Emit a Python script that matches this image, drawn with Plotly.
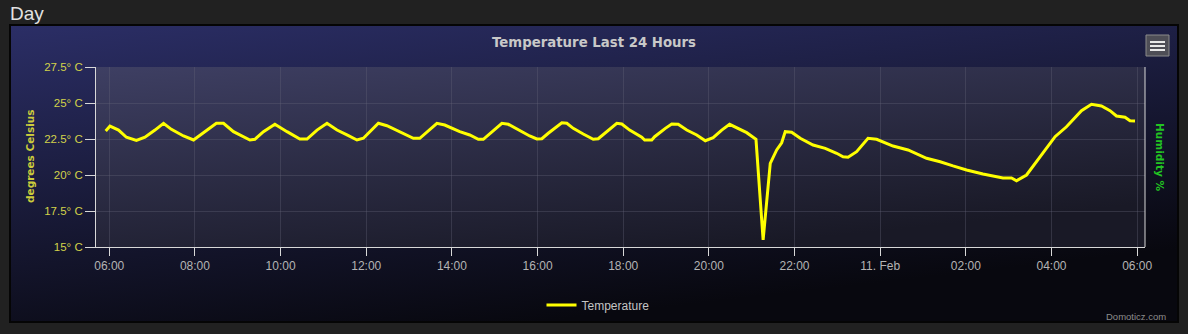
import base64
import plotly.graph_objects as go

# ---------------- data ----------------
times = [
    "2015-02-10 05:55", "2015-02-10 06:01", "2015-02-10 06:13", "2015-02-10 06:24", "2015-02-10 06:38",
    "2015-02-10 06:50", "2015-02-10 07:04", "2015-02-10 07:16", "2015-02-10 07:27", "2015-02-10 07:44",
    "2015-02-10 07:58", "2015-02-10 08:14", "2015-02-10 08:30", "2015-02-10 08:40", "2015-02-10 08:54",
    "2015-02-10 09:17", "2015-02-10 09:24", "2015-02-10 09:36", "2015-02-10 09:52", "2015-02-10 10:09",
    "2015-02-10 10:27", "2015-02-10 10:37", "2015-02-10 10:51", "2015-02-10 11:05", "2015-02-10 11:19",
    "2015-02-10 11:33", "2015-02-10 11:47", "2015-02-10 11:56", "2015-02-10 12:17", "2015-02-10 12:29",
    "2015-02-10 12:52", "2015-02-10 13:06", "2015-02-10 13:15", "2015-02-10 13:39", "2015-02-10 13:50",
    "2015-02-10 14:00", "2015-02-10 14:11", "2015-02-10 14:25", "2015-02-10 14:37", "2015-02-10 14:44",
    "2015-02-10 14:56", "2015-02-10 15:10", "2015-02-10 15:19", "2015-02-10 15:33", "2015-02-10 15:49",
    "2015-02-10 15:59", "2015-02-10 16:06", "2015-02-10 16:15", "2015-02-10 16:34", "2015-02-10 16:41",
    "2015-02-10 16:50", "2015-02-10 17:04", "2015-02-10 17:18", "2015-02-10 17:25", "2015-02-10 17:37",
    "2015-02-10 17:51", "2015-02-10 17:58", "2015-02-10 18:09", "2015-02-10 18:26", "2015-02-10 18:30",
    "2015-02-10 18:40", "2015-02-10 18:44", "2015-02-10 18:59", "2015-02-10 19:08", "2015-02-10 19:17",
    "2015-02-10 19:29", "2015-02-10 19:43", "2015-02-10 19:55", "2015-02-10 20:06", "2015-02-10 20:18",
    "2015-02-10 20:29", "2015-02-10 20:39", "2015-02-10 20:53", "2015-02-10 21:06", "2015-02-10 21:16",
    "2015-02-10 21:26", "2015-02-10 21:35", "2015-02-10 21:42", "2015-02-10 21:47", "2015-02-10 21:56",
    "2015-02-10 22:08", "2015-02-10 22:26", "2015-02-10 22:43", "2015-02-10 22:59", "2015-02-10 23:08",
    "2015-02-10 23:15", "2015-02-10 23:27", "2015-02-10 23:43", "2015-02-10 23:55", "2015-02-11 00:18",
    "2015-02-11 00:39", "2015-02-11 01:05", "2015-02-11 01:24", "2015-02-11 01:42", "2015-02-11 02:01",
    "2015-02-11 02:24", "2015-02-11 02:38", "2015-02-11 02:52", "2015-02-11 03:04", "2015-02-11 03:11",
    "2015-02-11 03:25", "2015-02-11 03:44", "2015-02-11 04:05", "2015-02-11 04:21", "2015-02-11 04:31",
    "2015-02-11 04:42", "2015-02-11 04:56", "2015-02-11 05:10", "2015-02-11 05:22", "2015-02-11 05:31",
    "2015-02-11 05:43", "2015-02-11 05:50", "2015-02-11 05:57",
]
temperature = [
    23.05, 23.40, 23.12, 22.62, 22.40,
    22.62, 23.12, 23.59, 23.17, 22.71,
    22.43, 23.01, 23.59, 23.59, 23.01,
    22.43, 22.48, 23.01, 23.52, 23.01,
    22.50, 22.50, 23.12, 23.59, 23.12,
    22.78, 22.43, 22.55, 23.59, 23.42,
    22.90, 22.55, 22.55, 23.59, 23.47,
    23.24, 23.01, 22.78, 22.48, 22.48,
    23.01, 23.59, 23.52, 23.12, 22.71,
    22.50, 22.52, 22.90, 23.63, 23.59,
    23.24, 22.85, 22.48, 22.52, 23.01,
    23.59, 23.54, 23.12, 22.62, 22.43,
    22.43, 22.66, 23.24, 23.54, 23.52,
    23.12, 22.78, 22.38, 22.59, 23.12,
    23.52, 23.26, 22.94, 22.48, 15.49,
    20.81, 21.74, 22.24, 23.01, 22.97,
    22.55, 22.08, 21.85, 21.51, 21.27,
    21.23, 21.62, 22.55, 22.48, 22.01,
    21.74, 21.16, 20.92, 20.63, 20.35,
    20.07, 19.93, 19.79, 19.79, 19.60,
    20.00, 21.27, 22.66, 23.35, 23.87,
    24.47, 24.91, 24.79, 24.47, 24.10,
    24.01, 23.77, 23.75,
]

y_tick_values = [15, 17.5, 20, 22.5, 25, 27.5]
y_tick_labels = ["15° C", "17.5° C", "20° C", "22.5° C", "25° C", "27.5° C"]
x_tick_values = ["2015-02-10 06:00", "2015-02-10 08:00", "2015-02-10 10:00", "2015-02-10 12:00",
                 "2015-02-10 14:00", "2015-02-10 16:00", "2015-02-10 18:00", "2015-02-10 20:00",
                 "2015-02-10 22:00", "2015-02-11 00:00", "2015-02-11 02:00", "2015-02-11 04:00",
                 "2015-02-11 06:00"]
x_tick_labels = ["06:00", "08:00", "10:00", "12:00", "14:00", "16:00", "18:00", "20:00",
                 "22:00", "11. Feb", "02:00", "04:00", "06:00"]
x_range = ["2015-02-10 05:41:24", "2015-02-11 06:11:00"]
y_range = [15, 27.5]

# ---------------- layout geometry ----------------
W, H = 1188, 334
L, R, T, B = 96, 1145, 67, 247   # plot area in pixels
PW, PH = R - L, B - T


def px(x):
    return (x - L) / PW


def py(y):
    return (B - y) / PH


def svg_uri(c1, c2, x2, y2):
    svg = ('<svg xmlns="http://www.w3.org/2000/svg" width="100" height="100" '
           'viewBox="0 0 100 100" preserveAspectRatio="none"><defs>'
           f'<linearGradient id="g" x1="0" y1="0" x2="{x2}" y2="{y2}">'
           f'<stop offset="0" stop-color="{c1}"/><stop offset="1" stop-color="{c2}"/>'
           '</linearGradient></defs><rect width="100" height="100" fill="url(#g)"/></svg>')
    return "data:image/svg+xml;base64," + base64.b64encode(svg.encode()).decode()


fig = go.Figure()
fig.add_trace(go.Scatter(
    x=times, y=temperature, mode="lines", name="Temperature",
    line=dict(color="#ffff00", width=3, shape="linear"),
))

# panel and plot-area backgrounds
images = [
    dict(source=svg_uri("#2b2e66", "#08080f", 0.45, 1), xref="paper", yref="paper",
         x=px(10), y=py(25), sizex=px(1178) - px(10), sizey=py(25) - py(322),
         xanchor="left", yanchor="top", sizing="stretch", layer="below"),
    dict(source=svg_uri("#3e3f63", "#191926", 0.6, 1), xref="paper", yref="paper",
         x=0, y=1, sizex=1, sizey=1, xanchor="left", yanchor="top",
         sizing="stretch", layer="below"),
]

shapes = [
    # panel border
    dict(type="rect", xref="paper", yref="paper", x0=px(10), x1=px(1178), y0=py(322), y1=py(25),
         line=dict(color="#050505", width=2), fillcolor="rgba(0,0,0,0)", layer="below"),
    # right border of plot
    dict(type="line", xref="paper", yref="paper", x0=1, x1=1, y0=0, y1=1,
         line=dict(color="#d8d8d8", width=1), layer="above"),
    # menu button
    dict(type="rect", xref="paper", yref="paper", x0=px(1146), x1=px(1169), y0=py(56), y1=py(35),
         line=dict(color="#8a8a8a", width=1), fillcolor="#4e4e56", layer="above"),
]
for yy in (42, 46, 50):
    shapes.append(dict(type="line", xref="paper", yref="paper", x0=px(1150), x1=px(1165),
                       y0=py(yy), y1=py(yy), line=dict(color="#e8e8e8", width=2), layer="above"))

annotations = [
    dict(text="Day", xref="paper", yref="paper", x=px(8), y=py(1), xanchor="left", yanchor="top",
         showarrow=False, font=dict(family="Liberation Sans, Arial", size=19, color="#e2e2e2")),
    dict(text="<b>degrees Celsius</b>", xref="paper", yref="paper", x=px(30), y=0.5,
         textangle=-90, showarrow=False, xanchor="center", yanchor="middle",
         font=dict(family="DejaVu Sans", size=10.5, color="#cccc3c")),
    dict(text="<b>Humidity %</b>", xref="paper", yref="paper", x=px(1160), y=0.5,
         textangle=90, showarrow=False, xanchor="center", yanchor="middle",
         font=dict(family="DejaVu Sans", size=10.5, color="#22c422")),
    dict(text="Domoticz.com", xref="paper", yref="paper", x=px(1168), y=py(316),
         xanchor="right", yanchor="middle", showarrow=False,
         font=dict(family="Liberation Sans, Arial", size=9.5, color="#8c8c8c")),
]

fig.update_layout(
    width=W, height=H,
    margin=dict(l=L, r=W - R, t=T, b=H - B, pad=0),
    paper_bgcolor="#212121",
    plot_bgcolor="rgba(0,0,0,0)",
    title=dict(text="<b>Temperature Last 24 Hours</b>", x=0.5, xref="container",
               y=1 - 42 / H, yref="container", xanchor="center", yanchor="middle",
               font=dict(family="DejaVu Sans", size=13.3, color="#c8c8c8")),
    xaxis=dict(
        type="date", range=x_range, tickvals=x_tick_values, ticktext=x_tick_labels,
        showline=True, linecolor="#d8d8d8", linewidth=1,
        ticks="outside", ticklen=8, tickcolor="#d8d8d8", tickwidth=1,
        showgrid=True, gridcolor="rgba(100,100,120,0.35)", gridwidth=1,
        zeroline=False,
        tickfont=dict(family="Liberation Sans, Arial", size=12, color="#b4b4b4"),
    ),
    yaxis=dict(
        range=y_range, tickvals=y_tick_values, ticktext=y_tick_labels,
        showline=True, linecolor="#d8d8d8", linewidth=1,
        ticks="outside", ticklen=10, tickcolor="#d8d8d8", tickwidth=1,
        showgrid=True, gridcolor="rgba(100,100,120,0.35)", gridwidth=1,
        zeroline=False,
        tickfont=dict(family="Liberation Sans, Arial", size=11.5, color="#d2d24a"),
    ),
    showlegend=True,
    legend=dict(orientation="h", x=px(598), xanchor="center", y=py(305), yanchor="middle",
                bgcolor="rgba(0,0,0,0)",
                font=dict(family="Liberation Sans, Arial", size=12, color="#c4c4c4"),
                itemwidth=30),
    images=images,
    shapes=shapes,
    annotations=annotations,
)

fig.write_html("out.html", config={"displayModeBar": False})
